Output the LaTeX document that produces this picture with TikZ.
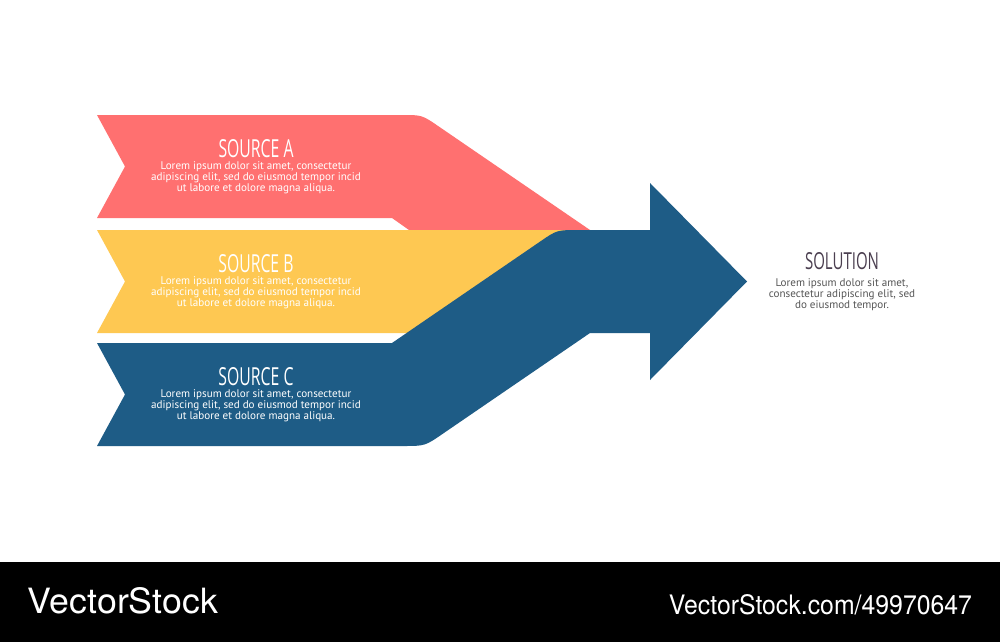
\documentclass[tikz,border=0pt]{standalone}
\usepackage{fontspec}
\setmainfont{PT Sans}
\newfontfamily\titlefont{Open Sans}
\newfontfamily\wmfont{TeX Gyre Heros}
\definecolor{pinkc}{RGB}{255,112,112}
\definecolor{yellowc}{RGB}{254,200,82}
\definecolor{bluec}{RGB}{30,92,134}
\definecolor{solc}{RGB}{75,63,80}
\definecolor{solbody}{RGB}{85,85,85}
\tikzset{
  ttl/.style={inner sep=0pt, text=white, font=\titlefont},
  bodytext/.style={inner sep=0pt, text=white, align=center, font=\fontsize{11.1}{11}\selectfont},
  wm/.style={inner sep=0pt, text=white, font=\wmfont}
}
\begin{document}
\begin{tikzpicture}[x=1pt,y=-1pt]
\useasboundingbox (0,0) rectangle (1000,642);
\fill[white] (0,0) rectangle (1000,642);
\fill[black] (0,562) rectangle (1000,642);
% band A
\fill[pinkc] (97,115) -- (402,115) .. controls (422,115) .. (438.5,126.3) -- (590,230)
  -- (409,230) -- (392,218) -- (97,218) -- (125,166.5) -- cycle;
% band B
\fill[yellowc] (97,230) -- (585,230) -- (585,333) -- (97,333) -- (125,281.5) -- cycle;
% band C and arrow
\fill[bluec] (97,343) -- (392,343) -- (540.5,241.3) .. controls (557,230) .. (579,230)
  -- (650,230) -- (650,183) -- (747,281.5) -- (650,380) -- (650,333) -- (590,333)
  -- (443,433.6) .. controls (425,446) .. (403,446) -- (97,446) -- (125,394.5) -- cycle;
% texts
\node[ttl] (ta) at (256,148.5) {\resizebox{75pt}{18pt}{SOURCE A}};
\node[bodytext] (ba) at (256,177.5) {Lorem ipsum dolor sit amet, consectetur\\adipiscing elit, sed do eiusmod tempor incid\\ut labore et dolore magna aliqua.};
\node[ttl] (tb) at (256,264) {\resizebox{75pt}{18pt}{SOURCE B}};
\node[bodytext] (bb) at (256,293) {Lorem ipsum dolor sit amet, consectetur\\adipiscing elit, sed do eiusmod tempor incid\\ut labore et dolore magna aliqua.};
\node[ttl] (tc) at (256,376.5) {\resizebox{75pt}{18pt}{SOURCE C}};
\node[bodytext] (bc) at (256,405.5) {Lorem ipsum dolor sit amet, consectetur\\adipiscing elit, sed do eiusmod tempor incid\\ut labore et dolore magna aliqua.};
\node[ttl, text=solc] (ts) at (842,261) {\resizebox{74pt}{17pt}{SOLUTION}};
\node[bodytext, text=solbody] (bs) at (842,295) {Lorem ipsum dolor sit amet,\\consectetur adipiscing elit, sed\\do eiusmod tempor.};
% watermark
\node[wm] (w1) at (123,601) {\resizebox{190pt}{26pt}{VectorStock}};
\node[wm] (w2) at (820.5,605) {\resizebox{303pt}{20pt}{VectorStock.com/49970647}};
\end{tikzpicture}
\end{document}
